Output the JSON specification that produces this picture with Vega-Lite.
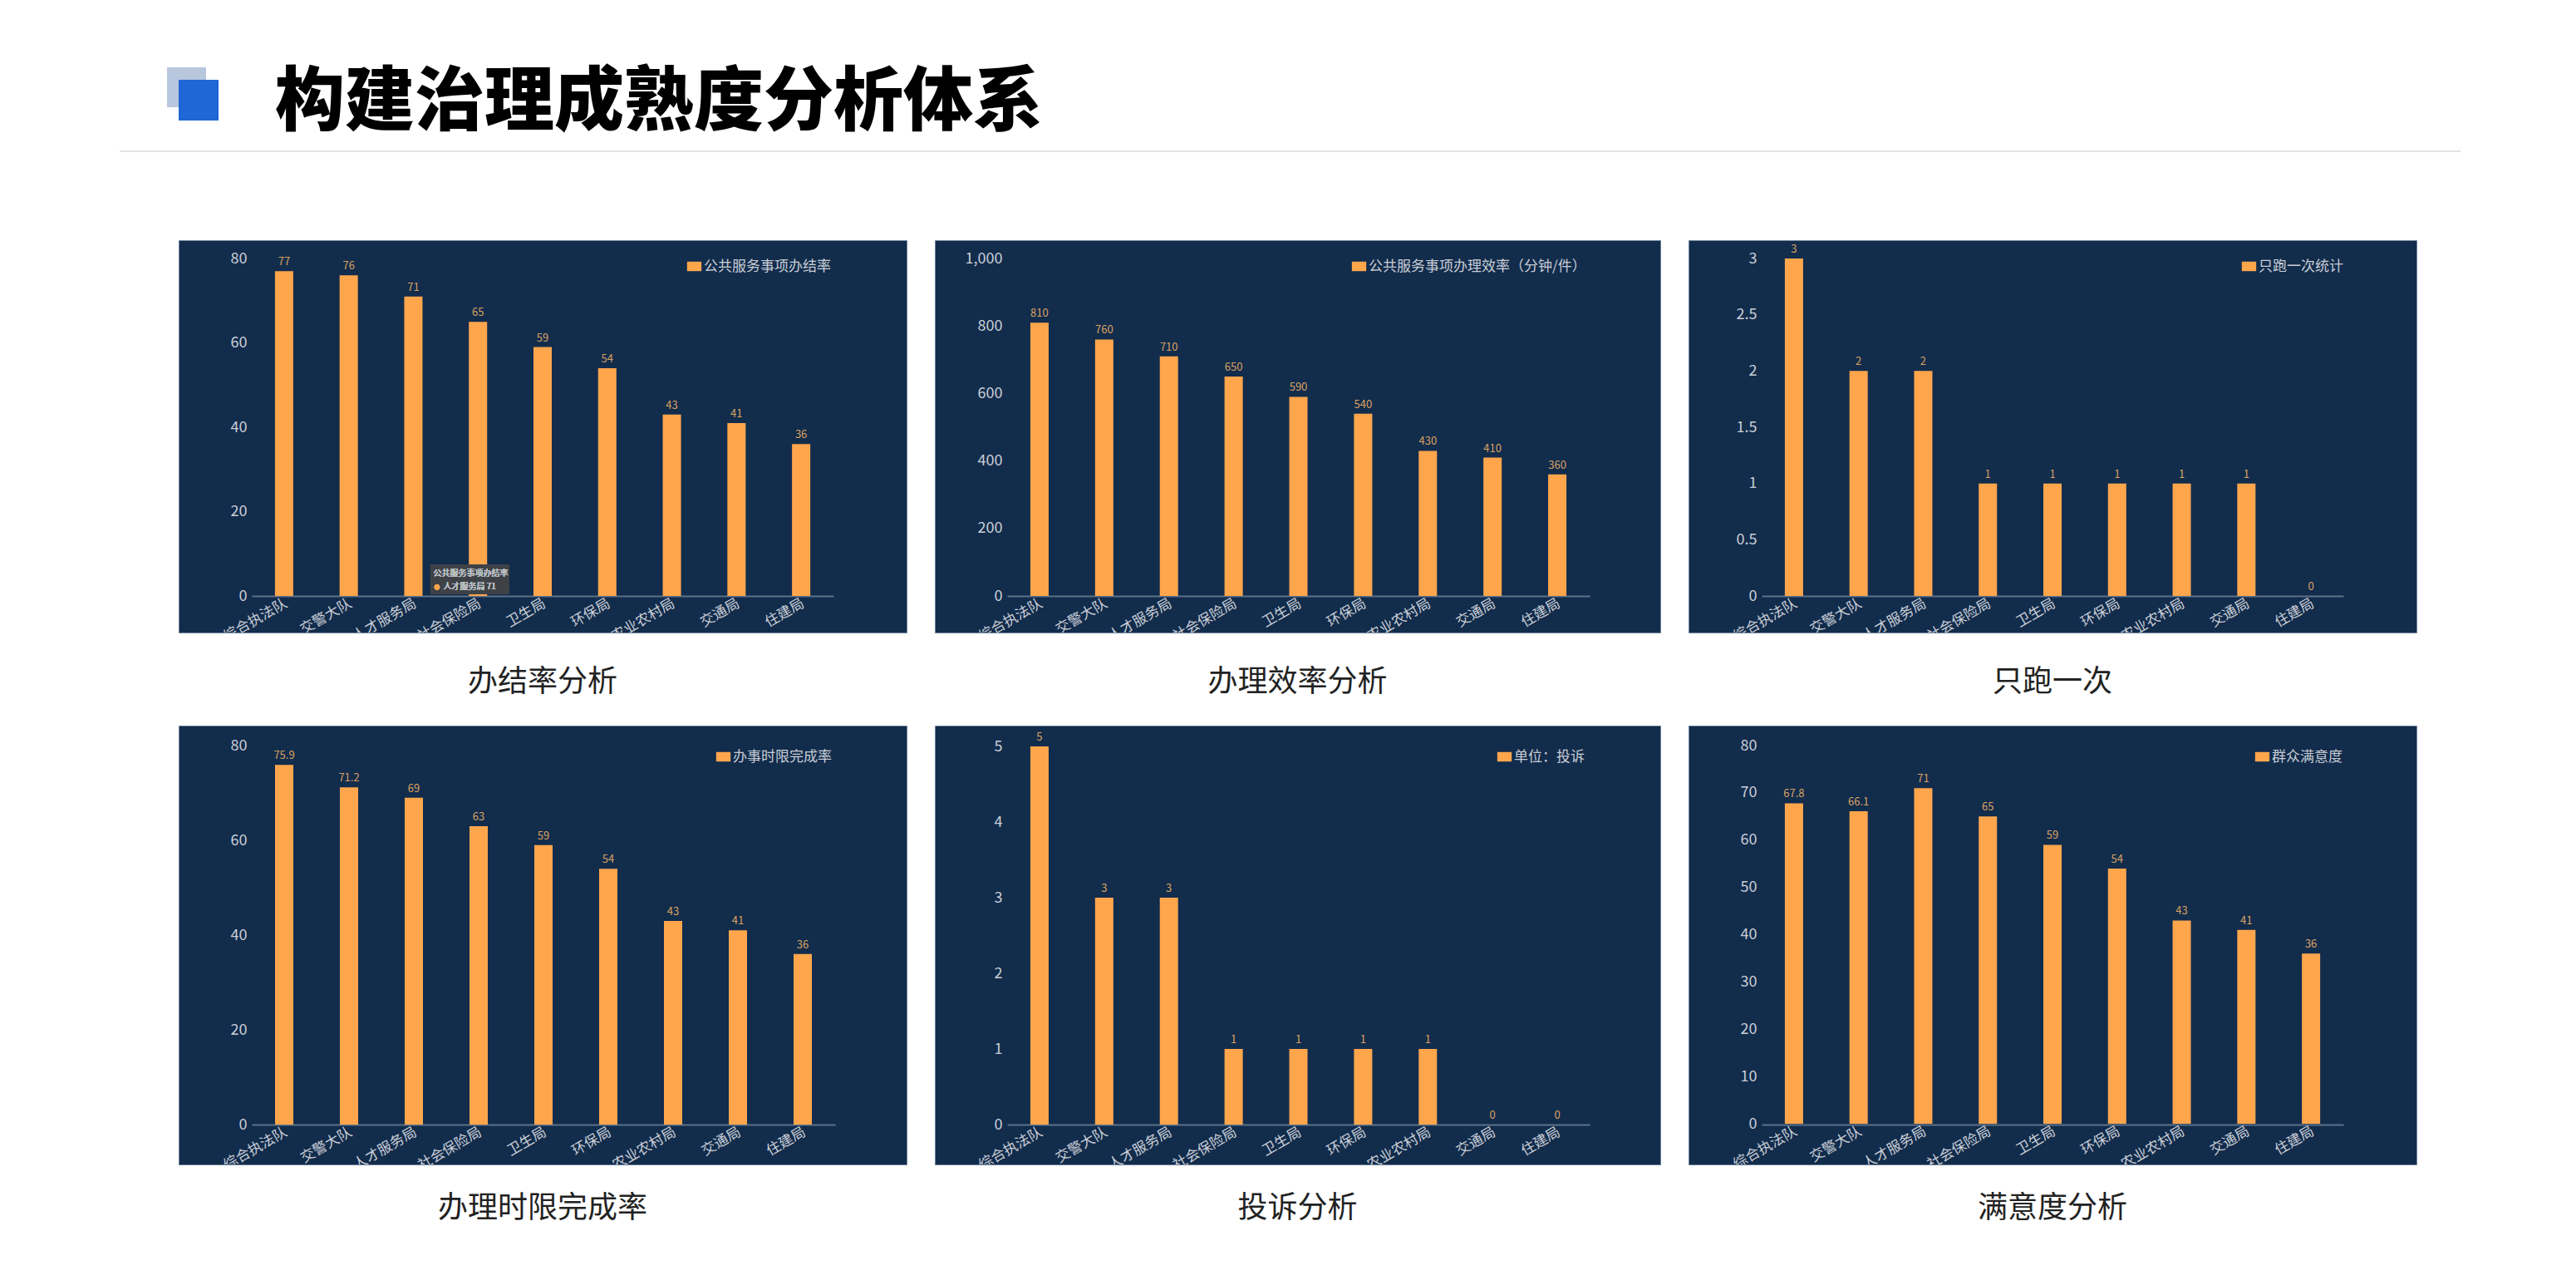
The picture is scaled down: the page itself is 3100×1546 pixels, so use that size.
{"$schema":"https://vega.github.io/schema/vega-lite/v6.json","background":"#ffffff","padding":{"left":143,"top":70,"right":0,"bottom":0},"config":{"font":"Noto Sans CJK SC","view":{"fill":"#122c4c","stroke":"#6d8299","strokeWidth":1},"axis":{"grid":false,"ticks":false,"title":null},"legend":{"title":null,"orient":"none","labelColor":"#c9ced6","labelFontSize":17,"symbolType":"M-1,-0.66H1V0.66H-1Z","symbolSize":300,"labelOffset":2,"padding":0,"labelLimit":400},"title":{"font":"Noto Sans CJK SC"}},"datasets":{"rows":[
{"series":"公共服务事项办结率","dept":"综合执法队","value":77},{"series":"公共服务事项办结率","dept":"交警大队","value":76},{"series":"公共服务事项办结率","dept":"人才服务局","value":71},{"series":"公共服务事项办结率","dept":"社会保险局","value":65},{"series":"公共服务事项办结率","dept":"卫生局","value":59},{"series":"公共服务事项办结率","dept":"环保局","value":54},{"series":"公共服务事项办结率","dept":"农业农村局","value":43},{"series":"公共服务事项办结率","dept":"交通局","value":41},{"series":"公共服务事项办结率","dept":"住建局","value":36},
{"series":"公共服务事项办理效率（分钟/件）","dept":"综合执法队","value":810},{"series":"公共服务事项办理效率（分钟/件）","dept":"交警大队","value":760},{"series":"公共服务事项办理效率（分钟/件）","dept":"人才服务局","value":710},{"series":"公共服务事项办理效率（分钟/件）","dept":"社会保险局","value":650},{"series":"公共服务事项办理效率（分钟/件）","dept":"卫生局","value":590},{"series":"公共服务事项办理效率（分钟/件）","dept":"环保局","value":540},{"series":"公共服务事项办理效率（分钟/件）","dept":"农业农村局","value":430},{"series":"公共服务事项办理效率（分钟/件）","dept":"交通局","value":410},{"series":"公共服务事项办理效率（分钟/件）","dept":"住建局","value":360},
{"series":"只跑一次统计","dept":"综合执法队","value":3},{"series":"只跑一次统计","dept":"交警大队","value":2},{"series":"只跑一次统计","dept":"人才服务局","value":2},{"series":"只跑一次统计","dept":"社会保险局","value":1},{"series":"只跑一次统计","dept":"卫生局","value":1},{"series":"只跑一次统计","dept":"环保局","value":1},{"series":"只跑一次统计","dept":"农业农村局","value":1},{"series":"只跑一次统计","dept":"交通局","value":1},{"series":"只跑一次统计","dept":"住建局","value":0},
{"series":"办事时限完成率","dept":"综合执法队","value":75.9},{"series":"办事时限完成率","dept":"交警大队","value":71.2},{"series":"办事时限完成率","dept":"人才服务局","value":69},{"series":"办事时限完成率","dept":"社会保险局","value":63},{"series":"办事时限完成率","dept":"卫生局","value":59},{"series":"办事时限完成率","dept":"环保局","value":54},{"series":"办事时限完成率","dept":"农业农村局","value":43},{"series":"办事时限完成率","dept":"交通局","value":41},{"series":"办事时限完成率","dept":"住建局","value":36},
{"series":"单位：投诉","dept":"综合执法队","value":5},{"series":"单位：投诉","dept":"交警大队","value":3},{"series":"单位：投诉","dept":"人才服务局","value":3},{"series":"单位：投诉","dept":"社会保险局","value":1},{"series":"单位：投诉","dept":"卫生局","value":1},{"series":"单位：投诉","dept":"环保局","value":1},{"series":"单位：投诉","dept":"农业农村局","value":1},{"series":"单位：投诉","dept":"交通局","value":0},{"series":"单位：投诉","dept":"住建局","value":0},
{"series":"群众满意度","dept":"综合执法队","value":67.8},{"series":"群众满意度","dept":"交警大队","value":66.1},{"series":"群众满意度","dept":"人才服务局","value":71},{"series":"群众满意度","dept":"社会保险局","value":65},{"series":"群众满意度","dept":"卫生局","value":59},{"series":"群众满意度","dept":"环保局","value":54},{"series":"群众满意度","dept":"农业农村局","value":43},{"series":"群众满意度","dept":"交通局","value":41},{"series":"群众满意度","dept":"住建局","value":36}
]},"spacing":32,"resolve":{"scale":{"fill":"independent"},"legend":{"fill":"independent"}},"vconcat":[
{"width":2696,"height":186,"view":{"fill":null,"stroke":null},"data":{"values":[{"item":"header"}]},"layer":[
{"mark":{"type":"rule","color":"#e3e3e3","strokeWidth":2},"encoding":{"x":{"datum":143,"type":"quantitative","scale":{"domain":[214,2910],"range":[0,2696],"nice":false,"zero":false},"axis":null},"x2":{"datum":2960},"y":{"datum":182,"type":"quantitative","scale":{"domain":[70,256],"range":[0,186],"nice":false,"zero":false},"axis":null}}},
{"mark":{"type":"rect","color":"#b8c6de"},"encoding":{"x":{"datum":200,"type":"quantitative"},"x2":{"datum":247},"y":{"datum":81,"type":"quantitative"},"y2":{"datum":129}}},
{"mark":{"type":"rect","color":"#1f66d6"},"encoding":{"x":{"datum":214,"type":"quantitative"},"x2":{"datum":262},"y":{"datum":96,"type":"quantitative"},"y2":{"datum":145}}},
{"mark":{"type":"text","align":"left","baseline":"middle","fontSize":84,"fontWeight":900,"color":"#000000"},"encoding":{"x":{"datum":330,"type":"quantitative"},"y":{"datum":125,"type":"quantitative"},"text":{"value":"构建治理成熟度分析体系"}}}
]},
{"spacing":32,"resolve":{"scale":{"fill":"independent"},"legend":{"fill":"independent"}},"hconcat":[
{"width":876,"height":472,"title":{"text":"办结率分析","orient":"bottom","offset":43,"fontSize":36,"fontWeight":"normal","color":"#222222"},"data":{"name":"rows"},"transform":[{"filter":{"field":"series","equal":"公共服务事项办结率"}}],"encoding":{"x":{"field":"dept","type":"nominal","sort":null,"scale":{"type":"band","domain":["综合执法队","交警大队","人才服务局","社会保险局","卫生局","环保局","农业农村局","交通局","住建局"],"range":[88,788],"paddingInner":0,"paddingOuter":0},"axis":{"labels":false,"offset":-44,"domainColor":"#5d7188","domainWidth":2}}},"layer":[
{"mark":{"type":"bar","size":22},"encoding":{"y":{"field":"value","type":"quantitative","scale":{"domain":[0,80],"range":[428,22],"nice":false},"axis":{"values":[0,20,40,60,80],"format":"d","offset":-88,"labelPadding":6,"domain":false,"labelColor":"#c9ced6","labelFontSize":18}},"fill":{"field":"series","type":"nominal","scale":{"range":["#ffa64d"]},"legend":{"legendX":611,"legendY":22}}}},
{"mark":{"type":"text","baseline":"bottom","dy":-4,"fontSize":13,"color":"#d9a262"},"encoding":{"y":{"field":"value","type":"quantitative"},"text":{"field":"value"}}},
{"mark":{"type":"text","clip":true,"angle":-30,"align":"right","baseline":"middle","fontSize":17,"color":"#c9ced6","dx":-2,"dy":8},"encoding":{"y":{"datum":0,"type":"quantitative"},"text":{"field":"dept"}}},
{"mark":{"type":"rect","color":"#3f4347","opacity":0.75,"width":95,"xOffset":68},"encoding":{"x":{"datum":"人才服务局"},"y":{"datum":7.5,"type":"quantitative"},"y2":{"datum":0.4}}},
{"mark":{"type":"text","align":"left","fontSize":10,"color":"#b9bdc2","xOffset":24},"encoding":{"x":{"datum":"人才服务局"},"y":{"datum":5.3,"type":"quantitative"},"text":{"value":"公共服务事项办结率"}}},
{"mark":{"type":"point","filled":true,"size":40,"color":"#ffa64d","opacity":1,"xOffset":28.5},"encoding":{"x":{"datum":"人才服务局"},"y":{"datum":2.1,"type":"quantitative"}}},
{"mark":{"type":"text","align":"left","fontSize":10,"color":"#b9bdc2","xOffset":36},"encoding":{"x":{"datum":"人才服务局"},"y":{"datum":2.1,"type":"quantitative"},"text":{"value":"人才服务局 71"}}}
]},
{"width":873,"height":472,"title":{"text":"办理效率分析","orient":"bottom","offset":43,"fontSize":36,"fontWeight":"normal","color":"#222222"},"data":{"name":"rows"},"transform":[{"filter":{"field":"series","equal":"公共服务事项办理效率（分钟/件）"}}],"encoding":{"x":{"field":"dept","type":"nominal","sort":null,"scale":{"type":"band","domain":["综合执法队","交警大队","人才服务局","社会保险局","卫生局","环保局","农业农村局","交通局","住建局"],"range":[87,788],"paddingInner":0,"paddingOuter":0},"axis":{"labels":false,"offset":-44,"domainColor":"#5d7188","domainWidth":2}}},"layer":[
{"mark":{"type":"bar","size":22},"encoding":{"y":{"field":"value","type":"quantitative","scale":{"domain":[0,1000],"range":[428,22],"nice":false},"axis":{"values":[0,200,400,600,800,1000],"format":",d","offset":-87,"labelPadding":6,"domain":false,"labelColor":"#c9ced6","labelFontSize":18}},"fill":{"field":"series","type":"nominal","scale":{"range":["#ffa64d"]},"legend":{"legendX":501,"legendY":22}}}},
{"mark":{"type":"text","baseline":"bottom","dy":-4,"fontSize":13,"color":"#d9a262"},"encoding":{"y":{"field":"value","type":"quantitative"},"text":{"field":"value"}}},
{"mark":{"type":"text","clip":true,"angle":-30,"align":"right","baseline":"middle","fontSize":17,"color":"#c9ced6","dx":-2,"dy":8},"encoding":{"y":{"datum":0,"type":"quantitative"},"text":{"field":"dept"}}}
]},
{"width":876,"height":472,"title":{"text":"只跑一次","orient":"bottom","offset":43,"fontSize":36,"fontWeight":"normal","color":"#222222"},"data":{"name":"rows"},"transform":[{"filter":{"field":"series","equal":"只跑一次统计"}}],"encoding":{"x":{"field":"dept","type":"nominal","sort":null,"scale":{"type":"band","domain":["综合执法队","交警大队","人才服务局","社会保险局","卫生局","环保局","农业农村局","交通局","住建局"],"range":[88,788],"paddingInner":0,"paddingOuter":0},"axis":{"labels":false,"offset":-44,"domainColor":"#5d7188","domainWidth":2}}},"layer":[
{"mark":{"type":"bar","size":22},"encoding":{"y":{"field":"value","type":"quantitative","scale":{"domain":[0,3],"range":[428,22],"nice":false},"axis":{"values":[0,0.5,1,1.5,2,2.5,3],"format":"~g","offset":-88,"labelPadding":6,"domain":false,"labelColor":"#c9ced6","labelFontSize":18}},"fill":{"field":"series","type":"nominal","scale":{"range":["#ffa64d"]},"legend":{"legendX":665,"legendY":22}}}},
{"mark":{"type":"text","baseline":"bottom","dy":-4,"fontSize":13,"color":"#d9a262"},"encoding":{"y":{"field":"value","type":"quantitative"},"text":{"field":"value"}}},
{"mark":{"type":"text","clip":true,"angle":-30,"align":"right","baseline":"middle","fontSize":17,"color":"#c9ced6","dx":-2,"dy":8},"encoding":{"y":{"datum":0,"type":"quantitative"},"text":{"field":"dept"}}}
]}
]},
{"spacing":32,"resolve":{"scale":{"fill":"independent"},"legend":{"fill":"independent"}},"hconcat":[
{"width":876,"height":528,"title":{"text":"办理时限完成率","orient":"bottom","offset":36,"fontSize":36,"fontWeight":"normal","color":"#222222"},"data":{"name":"rows"},"transform":[{"filter":{"field":"series","equal":"办事时限完成率"}}],"encoding":{"x":{"field":"dept","type":"nominal","sort":null,"scale":{"type":"band","domain":["综合执法队","交警大队","人才服务局","社会保险局","卫生局","环保局","农业农村局","交通局","住建局"],"range":[88,790],"paddingInner":0,"paddingOuter":0},"axis":{"labels":false,"offset":-48,"domainColor":"#5d7188","domainWidth":2}}},"layer":[
{"mark":{"type":"bar","size":22},"encoding":{"y":{"field":"value","type":"quantitative","scale":{"domain":[0,80],"range":[480,24],"nice":false},"axis":{"values":[0,20,40,60,80],"format":"d","offset":-88,"labelPadding":6,"domain":false,"labelColor":"#c9ced6","labelFontSize":18}},"fill":{"field":"series","type":"nominal","scale":{"range":["#ffa64d"]},"legend":{"legendX":646,"legendY":28}}}},
{"mark":{"type":"text","baseline":"bottom","dy":-4,"fontSize":13,"color":"#d9a262"},"encoding":{"y":{"field":"value","type":"quantitative"},"text":{"field":"value"}}},
{"mark":{"type":"text","clip":true,"angle":-30,"align":"right","baseline":"middle","fontSize":17,"color":"#c9ced6","dx":-2,"dy":8},"encoding":{"y":{"datum":0,"type":"quantitative"},"text":{"field":"dept"}}}
]},
{"width":873,"height":528,"title":{"text":"投诉分析","orient":"bottom","offset":36,"fontSize":36,"fontWeight":"normal","color":"#222222"},"data":{"name":"rows"},"transform":[{"filter":{"field":"series","equal":"单位：投诉"}}],"encoding":{"x":{"field":"dept","type":"nominal","sort":null,"scale":{"type":"band","domain":["综合执法队","交警大队","人才服务局","社会保险局","卫生局","环保局","农业农村局","交通局","住建局"],"range":[87,788],"paddingInner":0,"paddingOuter":0},"axis":{"labels":false,"offset":-48,"domainColor":"#5d7188","domainWidth":2}}},"layer":[
{"mark":{"type":"bar","size":22},"encoding":{"y":{"field":"value","type":"quantitative","scale":{"domain":[0,5],"range":[480,25],"nice":false},"axis":{"values":[0,1,2,3,4,5],"format":"d","offset":-87,"labelPadding":6,"domain":false,"labelColor":"#c9ced6","labelFontSize":18}},"fill":{"field":"series","type":"nominal","scale":{"range":["#ffa64d"]},"legend":{"legendX":676,"legendY":28}}}},
{"mark":{"type":"text","baseline":"bottom","dy":-4,"fontSize":13,"color":"#d9a262"},"encoding":{"y":{"field":"value","type":"quantitative"},"text":{"field":"value"}}},
{"mark":{"type":"text","clip":true,"angle":-30,"align":"right","baseline":"middle","fontSize":17,"color":"#c9ced6","dx":-2,"dy":8},"encoding":{"y":{"datum":0,"type":"quantitative"},"text":{"field":"dept"}}}
]},
{"width":876,"height":528,"title":{"text":"满意度分析","orient":"bottom","offset":36,"fontSize":36,"fontWeight":"normal","color":"#222222"},"data":{"name":"rows"},"transform":[{"filter":{"field":"series","equal":"群众满意度"}}],"encoding":{"x":{"field":"dept","type":"nominal","sort":null,"scale":{"type":"band","domain":["综合执法队","交警大队","人才服务局","社会保险局","卫生局","环保局","农业农村局","交通局","住建局"],"range":[88,788],"paddingInner":0,"paddingOuter":0},"axis":{"labels":false,"offset":-48,"domainColor":"#5d7188","domainWidth":2}}},"layer":[
{"mark":{"type":"bar","size":22},"encoding":{"y":{"field":"value","type":"quantitative","scale":{"domain":[0,80],"range":[479,24],"nice":false},"axis":{"values":[0,10,20,30,40,50,60,70,80],"format":"d","offset":-88,"labelPadding":6,"domain":false,"labelColor":"#c9ced6","labelFontSize":18}},"fill":{"field":"series","type":"nominal","scale":{"range":["#ffa64d"]},"legend":{"legendX":681,"legendY":28}}}},
{"mark":{"type":"text","baseline":"bottom","dy":-4,"fontSize":13,"color":"#d9a262"},"encoding":{"y":{"field":"value","type":"quantitative"},"text":{"field":"value"}}},
{"mark":{"type":"text","clip":true,"angle":-30,"align":"right","baseline":"middle","fontSize":17,"color":"#c9ced6","dx":-2,"dy":8},"encoding":{"y":{"datum":0,"type":"quantitative"},"text":{"field":"dept"}}}
]}
]}
]}
